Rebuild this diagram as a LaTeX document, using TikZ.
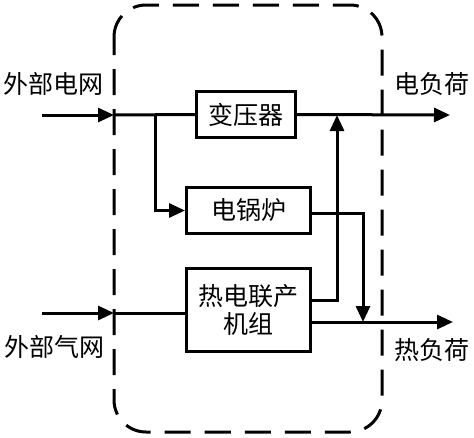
\documentclass[tikz,border=0pt]{standalone}
\usepackage{fontspec}
\newfontfamily\cjk{Noto Sans CJK SC}
\usetikzlibrary{arrows.meta}
\begin{document}
\begin{tikzpicture}[x=1pt,y=-1pt,
  every node/.style={font=\cjk\fontsize{25}{31}\selectfont},
  blk/.style={draw, line width=3pt, inner sep=0pt, align=center},
  ln/.style={line width=3pt},
  arr/.style={line width=3pt, -{Triangle[length=16pt,width=14pt]}},
  lbl/.style={inner sep=0pt}]
\useasboundingbox (0,0) rectangle (474,437);
% dashed system boundary
\draw[line width=3pt, dash pattern=on 26pt off 14pt, dash phase=8pt, rounded corners=32pt]
  (114,5) rectangle (382,432);
% blocks
\node[blk, minimum width=99pt, minimum height=46pt] (tr) at (246,114.5) {变压器};
\node[blk, minimum width=124pt, minimum height=46pt] (eb) at (248.5,210.5) {电锅炉};
\node[blk, minimum width=124pt, minimum height=83pt] (chp) at (248.5,310) {热电联产\\[-3pt]机组};
% labels
\node[lbl] (lE) at (54,84) {外部电网};
\node[lbl] (lEL) at (432,84) {电负荷};
\node[lbl] (lG) at (55,347) {外部气网};
\node[lbl] (lHL) at (432,350) {热负荷};
% coordinates
\coordinate (inE) at (42,115);
\coordinate (bE) at (114,115);
\coordinate (jE) at (155,115);
\coordinate (outE) at (450,115);
\coordinate (eJ) at (337,115);
\coordinate (inG) at (42,313);
\coordinate (bG) at (114,313);
\coordinate (hJ) at (363,322);
\coordinate (outH) at (453,322);
\coordinate (chpE) at (chp.east |- 0,300);
\coordinate (chpH) at (chp.east |- hJ);
\coordinate (ebE) at (eb.east |- 0,213);
% electricity path
\draw[arr] (inE) -- (bE);
\draw[ln] (bE) -- (tr.west);
\draw[arr] (jE) |- (eb.west);
\draw[arr] (tr.east) -- (outE);
\draw[arr] (chpE) -| (eJ);
% gas path
\draw[arr] (inG) -- (bG);
\draw[ln] (bG) -- (chp.west |- bG);
% heat path
\draw[arr] (ebE) -| (hJ);
\draw[arr] (chpH) -- (outH);
\end{tikzpicture}
\end{document}
